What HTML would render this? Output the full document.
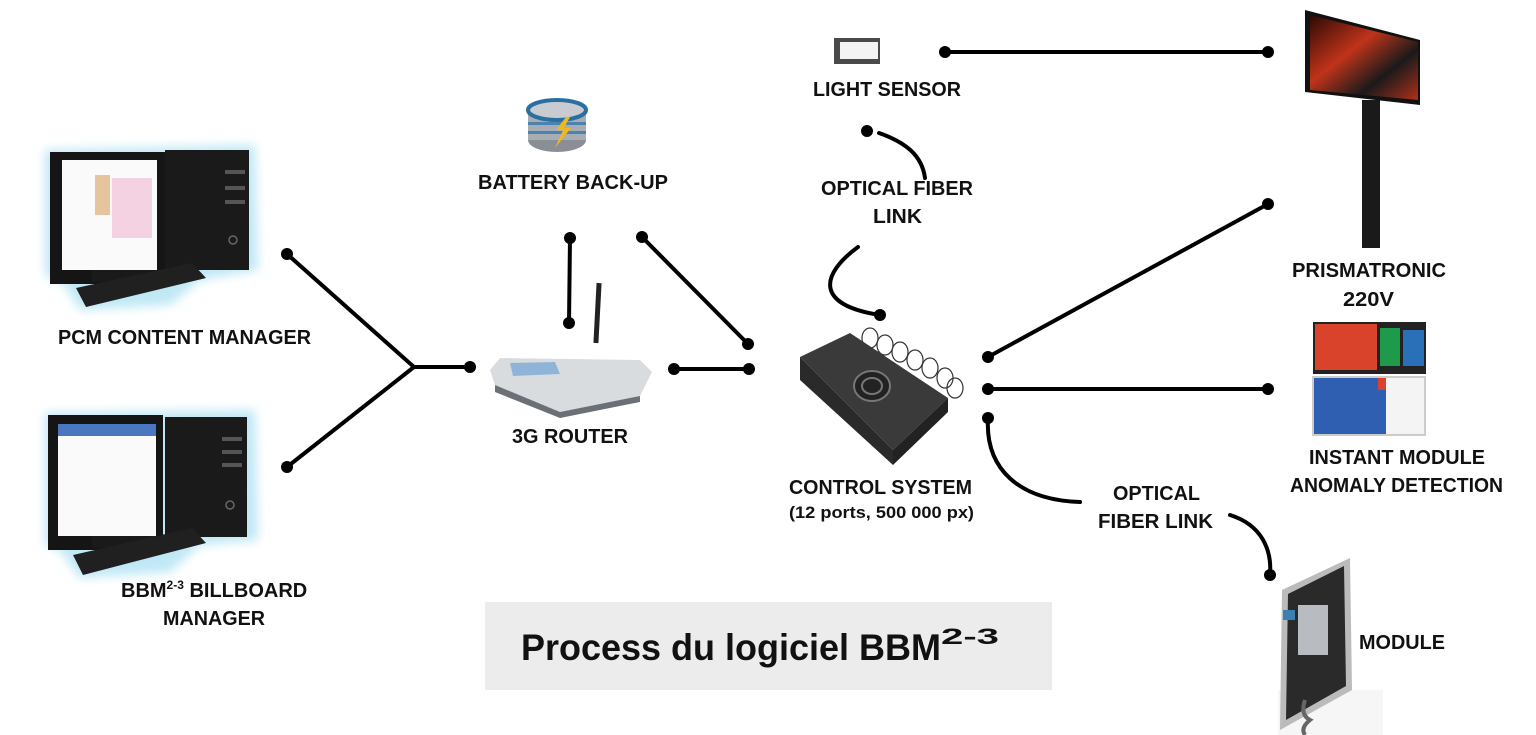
<!DOCTYPE html>
<html><head><meta charset="utf-8"><style>
html,body{margin:0;padding:0;background:#fff;}
svg{display:block}
text{font-family:"Liberation Sans",sans-serif;font-weight:bold;fill:#111;}
</style></head><body>
<svg width="1536" height="735" viewBox="0 0 1536 735" xmlns="http://www.w3.org/2000/svg">
<defs>
<filter id="glow" x="-20%" y="-20%" width="140%" height="140%"><feGaussianBlur stdDeviation="5"/></filter>
<linearGradient id="bb" x1="0" y1="0" x2="1" y2="1"><stop offset="0" stop-color="#2a0a05"/><stop offset="0.4" stop-color="#c0331a"/><stop offset="0.7" stop-color="#1a1a1a"/><stop offset="1" stop-color="#b0301a"/></linearGradient>
</defs>

<!-- PCM computer -->
<g>
<path d="M45 150 L255 145 L258 270 L200 280 L170 305 L80 310 L65 285 L45 275 Z" fill="#bfe8f5" filter="url(#glow)"/>
<rect x="50" y="152" width="115" height="132" fill="#151515"/>
<rect x="62" y="160" width="95" height="110" fill="#fafafa"/>
<rect x="95" y="175" width="15" height="40" fill="#d8a060" opacity="0.6"/>
<rect x="112" y="178" width="40" height="60" fill="#f0b8d0" opacity="0.6"/>
<rect x="165" y="150" width="84" height="120" fill="#1a1a1a"/>
<rect x="225" y="170" width="20" height="4" fill="#555"/><rect x="225" y="186" width="20" height="4" fill="#555"/><rect x="225" y="200" width="20" height="4" fill="#555"/>
<circle cx="233" cy="240" r="4" fill="none" stroke="#666" stroke-width="1.5"/>
<rect x="92" y="270" width="70" height="12" fill="#1a1a1a"/>
<polygon points="76,288 192,263 206,278 86,307" fill="#202020"/>
</g>
<!-- BBM computer -->
<g>
<path d="M45 413 L255 410 L258 540 L200 545 L170 572 L80 578 L60 550 L45 545 Z" fill="#bfe8f5" filter="url(#glow)"/>
<rect x="48" y="415" width="115" height="135" fill="#151515"/>
<rect x="58" y="424" width="98" height="112" fill="#fafafa"/>
<rect x="58" y="424" width="98" height="12" fill="#4a78c0"/>
<rect x="165" y="417" width="82" height="120" fill="#1a1a1a"/>
<rect x="222" y="437" width="20" height="4" fill="#555"/><rect x="222" y="450" width="20" height="4" fill="#555"/><rect x="222" y="463" width="20" height="4" fill="#555"/>
<circle cx="230" cy="505" r="4" fill="none" stroke="#666" stroke-width="1.5"/>
<rect x="92" y="536" width="70" height="12" fill="#1a1a1a"/>
<polygon points="73,555 192,528 206,543 83,575" fill="#202020"/>
</g>

<!-- Battery -->
<g>
<ellipse cx="557" cy="140" rx="29" ry="12" fill="#8a8f96"/>
<rect x="528" y="110" width="58" height="30" fill="#a8adb3"/>
<rect x="528" y="122" width="58" height="3" fill="#4a82b0"/>
<rect x="528" y="131" width="58" height="3" fill="#4a82b0"/>
<ellipse cx="557" cy="110" rx="29" ry="10" fill="#c8ccd0" stroke="#2a6fa0" stroke-width="4"/>
<polygon points="566,117 556,130 563,130 555,148 571,128 564,128 570,117" fill="#f0b820"/>
</g>

<!-- Router -->
<g>
<rect x="595" y="283" width="5" height="60" fill="#222" transform="rotate(3 597 313)"/>
<polygon points="490,370 500,358 640,360 652,372 640,396 560,412 495,385" fill="#d8dcde"/>
<polygon points="495,385 560,412 640,396 640,402 560,418 495,392" fill="#6a7075"/>
<polygon points="510,363 555,362 560,374 513,376" fill="#8fb4d8"/>
</g>

<!-- Light sensor -->
<g>
<rect x="834" y="38" width="46" height="26" fill="#4a4a4a"/>
<rect x="840" y="42" width="38" height="17" fill="#f4f4f4"/>
</g>

<!-- Control system -->
<g>
<g fill="none" stroke="#333" stroke-width="1.2">
<ellipse cx="870" cy="338" rx="8" ry="10"/><ellipse cx="885" cy="345" rx="8" ry="10"/><ellipse cx="900" cy="352" rx="8" ry="10"/><ellipse cx="915" cy="360" rx="8" ry="10"/><ellipse cx="930" cy="368" rx="8" ry="10"/><ellipse cx="945" cy="378" rx="8" ry="10"/><ellipse cx="955" cy="388" rx="8" ry="10"/>
</g>
<polygon points="800,357 850,333 948,398 893,450" fill="#3a3a3a"/>
<polygon points="800,357 893,450 893,465 800,380" fill="#2a2a2a"/>
<polygon points="893,450 948,398 948,412 893,465" fill="#222"/>
<ellipse cx="872" cy="386" rx="18" ry="15" fill="#222" stroke="#777" stroke-width="2"/>
<ellipse cx="872" cy="386" rx="10" ry="8" fill="none" stroke="#777" stroke-width="2"/>
</g>

<!-- Billboard -->
<g>
<rect x="1362" y="100" width="18" height="148" fill="#1a1a1a"/>
<polygon points="1305,10 1420,40 1420,105 1305,92" fill="#111"/>
<polygon points="1310,15 1418,42 1418,100 1310,90" fill="url(#bb)"/>
</g>

<!-- Instant module -->
<g>
<rect x="1313" y="322" width="113" height="52" fill="#222"/>
<rect x="1315" y="324" width="62" height="46" fill="#d9432c"/>
<rect x="1380" y="328" width="20" height="38" fill="#1f9a4a"/>
<rect x="1403" y="330" width="21" height="36" fill="#2a70b8"/>
<rect x="1312" y="376" width="114" height="60" fill="#ccc"/>
<rect x="1314" y="378" width="72" height="56" fill="#2f5fb0"/>
<rect x="1378" y="378" width="8" height="12" fill="#d9432c"/>
<rect x="1386" y="378" width="38" height="56" fill="#f4f4f4"/>
</g>

<!-- Module -->
<g>
<rect x="1278" y="690" width="105" height="45" fill="#f0f0f0" opacity="0.6"/>
<polygon points="1282,590 1350,558 1352,690 1280,730" fill="#bbb"/>
<polygon points="1288,594 1344,566 1346,686 1286,720" fill="#2a2a2a"/>
<rect x="1298" y="605" width="30" height="50" fill="#b8bcc0"/>
<rect x="1283" y="610" width="12" height="10" fill="#3a80b0"/>
<path d="M1305 700 Q1300 715 1310 720 Q1300 728 1305 735" stroke="#666" stroke-width="4" fill="none"/>
</g>

<!-- Connectors -->
<g stroke="#000" stroke-width="4" fill="none" stroke-linecap="round">
<path d="M287 254 L414 367 L287 467 M414 367 L470 367"/>
<path d="M570 238 L569 323"/>
<path d="M642 237 L748 344"/>
<path d="M674 369 L749 369"/>
<path d="M945 52 L1268 52"/>
<path d="M879 133 C905 142 922 155 925 178"/>
<path d="M858 247 C820 275 815 305 880 315"/>
<path d="M988 357 L1268 204"/>
<path d="M988 389 L1268 389"/>
<path d="M988 418 C985 470 1020 500 1080 502"/>
<path d="M1230 515 C1262 525 1272 550 1270 575"/>
</g>
<g fill="#000">
<circle cx="287" cy="254" r="6"/><circle cx="287" cy="467" r="6"/><circle cx="470" cy="367" r="6"/>
<circle cx="570" cy="238" r="6"/><circle cx="569" cy="323" r="6"/>
<circle cx="642" cy="237" r="6"/><circle cx="748" cy="344" r="6"/>
<circle cx="674" cy="369" r="6"/><circle cx="749" cy="369" r="6"/>
<circle cx="945" cy="52" r="6"/><circle cx="1268" cy="52" r="6"/>
<circle cx="867" cy="131" r="6"/><circle cx="880" cy="315" r="6"/>
<circle cx="988" cy="357" r="6"/><circle cx="1268" cy="204" r="6"/>
<circle cx="988" cy="389" r="6"/><circle cx="1268" cy="389" r="6"/>
<circle cx="988" cy="418" r="6"/><circle cx="1270" cy="575" r="6"/>
</g>

<!-- Labels -->
<g font-size="20">
<text x="58" y="344" textLength="253" lengthAdjust="spacingAndGlyphs">PCM CONTENT MANAGER</text>
<text x="121" y="597">BBM<tspan font-size="12" dy="-8">2-3</tspan><tspan dy="8"> BILLBOARD</tspan></text>
<text x="163" y="625" textLength="102" lengthAdjust="spacingAndGlyphs">MANAGER</text>
<text x="478" y="189" textLength="190" lengthAdjust="spacingAndGlyphs">BATTERY BACK-UP</text>
<text x="512" y="443" textLength="116" lengthAdjust="spacingAndGlyphs">3G ROUTER</text>
<text x="813" y="96" textLength="148" lengthAdjust="spacingAndGlyphs">LIGHT SENSOR</text>
<text x="821" y="195" textLength="152" lengthAdjust="spacingAndGlyphs">OPTICAL FIBER</text>
<text x="873" y="223" textLength="49" lengthAdjust="spacingAndGlyphs">LINK</text>
<text x="789" y="494" textLength="183" lengthAdjust="spacingAndGlyphs">CONTROL SYSTEM</text>
<text x="789" y="518" font-size="17" font-weight="normal" textLength="185" lengthAdjust="spacingAndGlyphs">(12 ports, 500 000 px)</text>
<text x="1113" y="500" textLength="87" lengthAdjust="spacingAndGlyphs">OPTICAL</text>
<text x="1098" y="528" textLength="115" lengthAdjust="spacingAndGlyphs">FIBER LINK</text>
<text x="1292" y="277" textLength="154" lengthAdjust="spacingAndGlyphs">PRISMATRONIC</text>
<text x="1343" y="306" textLength="51" lengthAdjust="spacingAndGlyphs">220V</text>
<text x="1309" y="464" textLength="176" lengthAdjust="spacingAndGlyphs">INSTANT MODULE</text>
<text x="1290" y="492" textLength="213" lengthAdjust="spacingAndGlyphs">ANOMALY DETECTION</text>
<text x="1359" y="649" textLength="86" lengthAdjust="spacingAndGlyphs">MODULE</text>
</g>

<!-- Title -->
<rect x="485" y="602" width="567" height="88" fill="#ececec"/>
<text x="521" y="660" font-size="37" font-weight="normal"><tspan textLength="420" lengthAdjust="spacingAndGlyphs">Process du logiciel BBM</tspan><tspan font-size="22" dy="-16" textLength="58" lengthAdjust="spacingAndGlyphs">2-3</tspan></text>
</svg>
</body></html>
